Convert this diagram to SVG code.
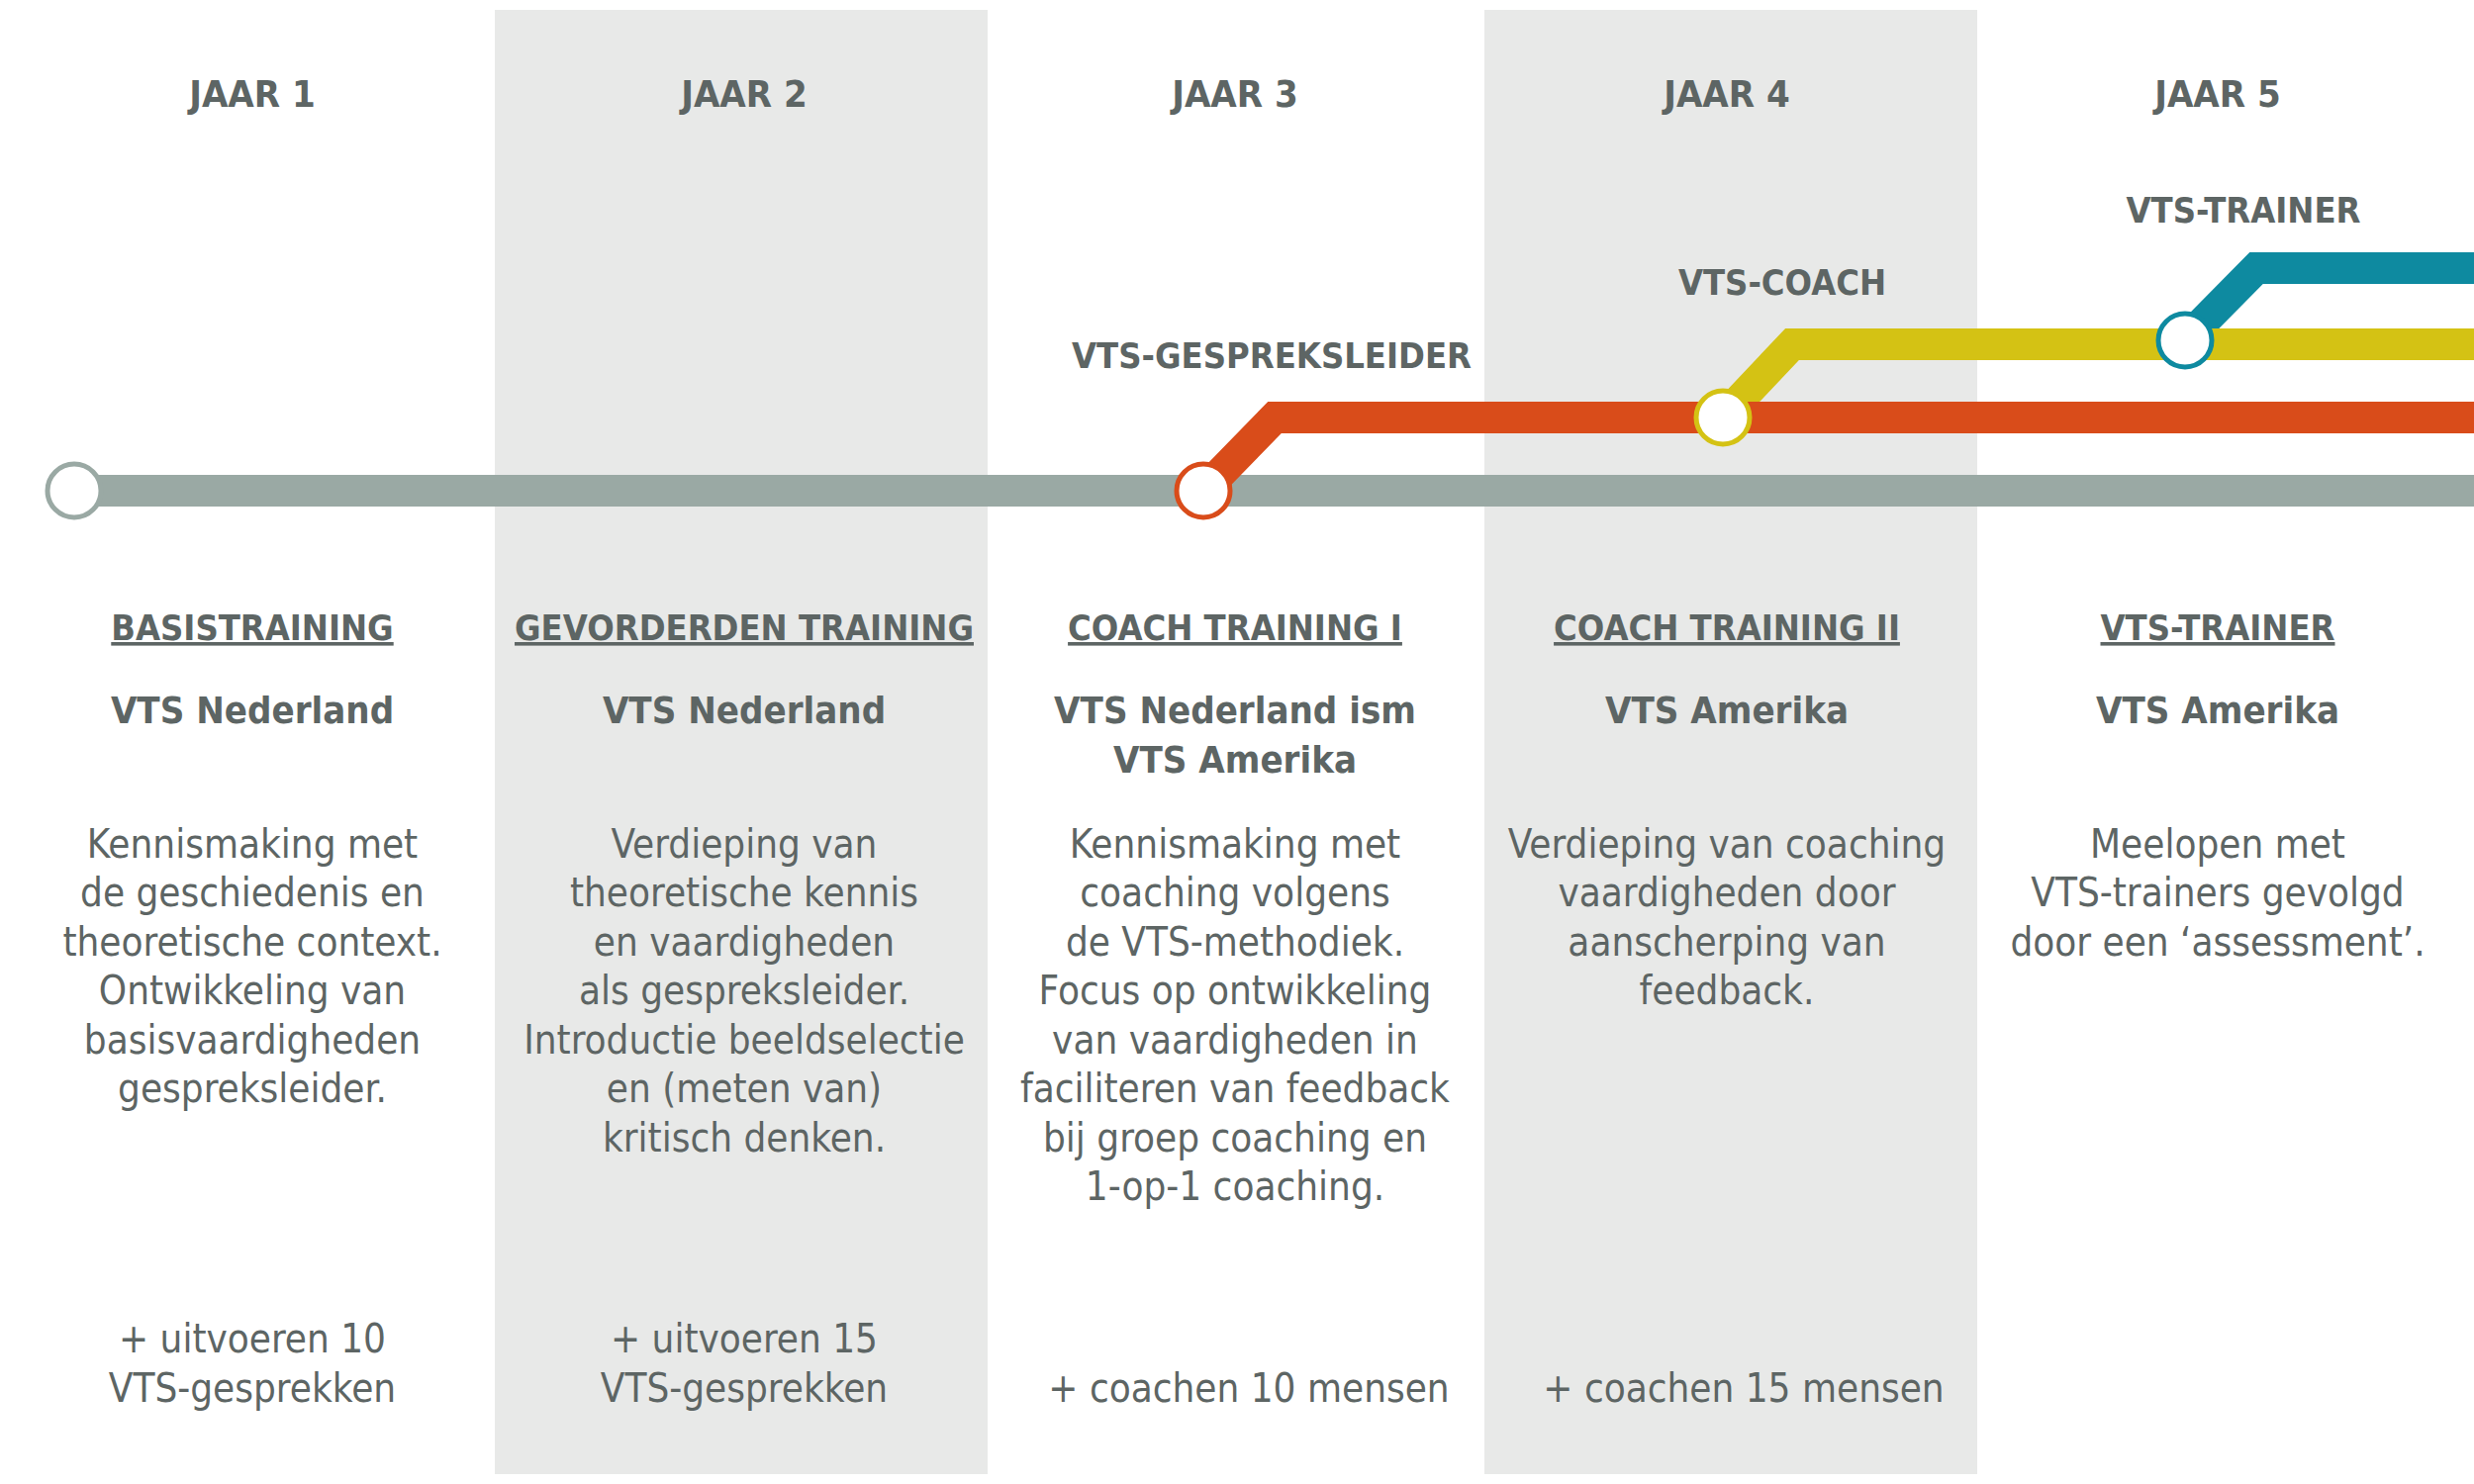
<svg xmlns="http://www.w3.org/2000/svg" width="2500" height="1500" viewBox="0 0 2500 1500">
<style>
text{font-family:"DejaVu Sans Condensed","Liberation Sans Narrow","Liberation Sans",sans-serif;fill:#5d6564;text-anchor:middle}
.yr{font-size:38px;font-weight:bold}
.lbl{font-size:36px;font-weight:bold}
.h{font-size:36px;font-weight:bold;text-decoration:underline}
.s{font-size:38px;font-weight:bold}
.b{font-size:40px;font-weight:300}
.ln{fill:none;stroke-width:32}
.st{fill:#fff;stroke-width:5}
</style>
<rect x="0" y="0" width="2500" height="1500" fill="#fff"/>
<rect x="500" y="10" width="498" height="1480" fill="#e8e9e8"/>
<rect x="1500" y="10" width="498" height="1480" fill="#e8e9e8"/>
<g id="connectors">
<path class="ln" stroke="#9aa9a4" d="M75 496H2500"/>
<path class="ln" stroke="#0e8aa0" d="M2208 344L2280 271H2500"/>
<path class="ln" stroke="#d4c214" d="M1741 422L1811 348H2500"/>
<path class="ln" stroke="#d94c1a" d="M1216 496L1288 422H2500"/>
</g>
<g id="stations">
<circle class="st" cx="75" cy="496" r="27" stroke="#9aa9a4"/>
<circle class="st" cx="1216" cy="496" r="27" stroke="#d94c1a"/>
<circle class="st" cx="1741" cy="422" r="27" stroke="#d4c214"/>
<circle class="st" cx="2208" cy="344" r="27" stroke="#0e8aa0"/>
</g>
<g id="labels">
<text class="lbl" x="1285" y="372">VTS-GESPREKSLEIDER</text>
<text class="lbl" x="1801" y="298">VTS-COACH</text>
<text class="lbl" x="2267" y="225">VTS-TRAINER</text>
</g>
<g id="col1">
<text class="yr" x="255" y="108">JAAR 1</text>
<text class="h" x="255" y="647">BASISTRAINING</text>
<text class="s" x="255" y="731">VTS Nederland</text>
<text class="b" x="255" y="867">Kennismaking met</text>
<text class="b" x="255" y="916">de geschiedenis en</text>
<text class="b" x="255" y="966">theoretische context.</text>
<text class="b" x="255" y="1015">Ontwikkeling van</text>
<text class="b" x="255" y="1065">basisvaardigheden</text>
<text class="b" x="255" y="1114">gespreksleider.</text>
<text class="b" x="255" y="1367">+ uitvoeren 10</text>
<text class="b" x="255" y="1417">VTS-gesprekken</text>
</g>
<g id="col2">
<text class="yr" x="752" y="108">JAAR 2</text>
<text class="h" x="752" y="647">GEVORDERDEN TRAINING</text>
<text class="s" x="752" y="731">VTS Nederland</text>
<text class="b" x="752" y="867">Verdieping van</text>
<text class="b" x="752" y="916">theoretische kennis</text>
<text class="b" x="752" y="966">en vaardigheden</text>
<text class="b" x="752" y="1015">als gespreksleider.</text>
<text class="b" x="752" y="1065">Introductie beeldselectie</text>
<text class="b" x="752" y="1114">en (meten van)</text>
<text class="b" x="752" y="1164">kritisch denken.</text>
<text class="b" x="752" y="1367">+ uitvoeren 15</text>
<text class="b" x="752" y="1417">VTS-gesprekken</text>
</g>
<g id="col3">
<text class="yr" x="1248" y="108">JAAR 3</text>
<text class="h" x="1248" y="647">COACH TRAINING I</text>
<text class="s" x="1248" y="731">VTS Nederland ism</text>
<text class="s" x="1248" y="781">VTS Amerika</text>
<text class="b" x="1248" y="867">Kennismaking met</text>
<text class="b" x="1248" y="916">coaching volgens</text>
<text class="b" x="1248" y="966">de VTS-methodiek.</text>
<text class="b" x="1248" y="1015">Focus op ontwikkeling</text>
<text class="b" x="1248" y="1065">van vaardigheden in</text>
<text class="b" x="1248" y="1114">faciliteren van feedback</text>
<text class="b" x="1248" y="1164">bij groep coaching en</text>
<text class="b" x="1248" y="1213">1-op-1 coaching.</text>
<text class="b" x="1262" y="1417">+ coachen 10 mensen</text>
</g>
<g id="col4">
<text class="yr" x="1745" y="108">JAAR 4</text>
<text class="h" x="1745" y="647">COACH TRAINING II</text>
<text class="s" x="1745" y="731">VTS Amerika</text>
<text class="b" x="1745" y="867">Verdieping van coaching</text>
<text class="b" x="1745" y="916">vaardigheden door</text>
<text class="b" x="1745" y="966">aanscherping van</text>
<text class="b" x="1745" y="1015">feedback.</text>
<text class="b" x="1762" y="1417">+ coachen 15 mensen</text>
</g>
<g id="col5">
<text class="yr" x="2241" y="108">JAAR 5</text>
<text class="h" x="2241" y="647">VTS-TRAINER</text>
<text class="s" x="2241" y="731">VTS Amerika</text>
<text class="b" x="2241" y="867">Meelopen met</text>
<text class="b" x="2241" y="916">VTS-trainers gevolgd</text>
<text class="b" x="2241" y="966">door een ‘assessment’.</text>
</g>
</svg>
